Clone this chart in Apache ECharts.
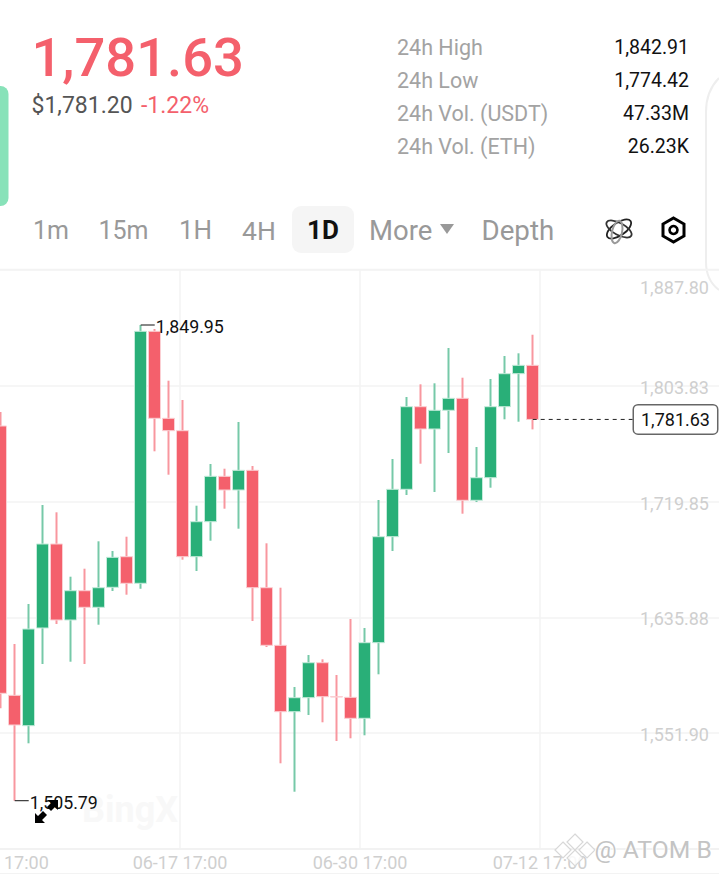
<!DOCTYPE html>
<html><head><meta charset="utf-8">
<style>html,body{margin:0;padding:0;background:#fff}#c{width:719px;height:874px}</style>
<script src="https://cdn.jsdelivr.net/npm/echarts@6/dist/echarts.min.js"></script>
</head><body><div id="c"></div>
<script>
const opens  = [1776.88,1582.04,1560.05,1630.73,1691.51,1636.52,1657.72,1645.71,1660.18,1682.32,1663.07,1845.39,1782.45,1773.48,1682.32,1707.64,1740.49,1730.57,1744.83,1659.89,1618.22,1570.18,1580.31,1605.63,1581.03,1580.60,1565.40,1620.10,1696.79,1731.08,1790.84,1774.71,1788.24,1796.92,1723.12,1739.47,1790.84,1814.72,1820.79];
const closes = [1583.49,1560.56,1630.01,1691.51,1636.52,1657.72,1645.71,1659.89,1681.88,1663.07,1845.39,1782.45,1773.48,1682.32,1707.64,1740.49,1730.57,1744.83,1659.89,1618.22,1570.18,1580.31,1605.63,1581.03,1580.80,1565.40,1620.10,1696.79,1731.08,1790.84,1774.71,1788.24,1796.92,1723.12,1739.47,1790.84,1814.72,1820.79,1781.63];
const lows   = [1572.64,1505.79,1547.32,1604.69,1633.63,1606.35,1604.69,1633.12,1657.50,1654.83,1659.17,1758.57,1741.64,1680.15,1671.97,1693.89,1717.05,1702.58,1635.80,1616.99,1532.85,1512.30,1567.79,1562.51,1548.98,1550.94,1553.11,1597.24,1686.44,1726.96,1749.60,1729.13,1757.34,1713.43,1721.89,1732.24,1781.72,1779.99,1774.42];
const highs  = [1787.01,1619.16,1648.10,1719.72,1714.44,1667.85,1673.64,1693.46,1686.44,1696.79,1849.95,1847.06,1809.65,1795.69,1719.22,1749.39,1745.99,1779.77,1747.94,1692.01,1659.89,1588.05,1611.20,1608.09,1596.73,1637.25,1630.73,1723.34,1753.00,1797.86,1807.05,1807.77,1833.31,1811.82,1761.68,1810.88,1827.52,1829.47,1842.91];
const yTicks = [1551.90,1635.88,1719.85,1803.83,1887.80];
const xTicks = [0,180,360,540];
const xTickLabels = ['17:00','06-17 17:00','06-30 17:00','07-12 17:00'];
const lastPrice = 1781.63, peak = 1849.95, trough = 1505.79;
const priceLineSpan = [532.7,634];
const statLabels = ['24h High','24h Low','24h Vol. (USDT)','24h Vol. (ETH)'];
const statValues = ['1,842.91','1,774.42','47.33M','26.23K'];
const tabLabels = ['1m','15m','1H','4H','1D','More','Depth'];

const tabX = [33,98.5,179,242,307,369,481.5], tabSize = [25,25,26,26.5,26,27.5,27.7], tabActive = 4;
const RED='#F4606C', GREEN='#29AF78', REDW='#F8979F', GREENW='#76C9A8', F='Roboto', AXIS='#CFCFCF';
const fmt=v=>v.toLocaleString('en-US',{minimumFractionDigits:2,maximumFractionDigits:2});
const wickData=opens.map((o,i)=>[o,closes[i],lows[i],highs[i]]);
const bodyData=opens.map((o,i)=>[o,closes[i],Math.min(o,closes[i]),Math.max(o,closes[i])]);
const txt=(text,x,y,size,fill,o={})=>({type:'text',x,y,z:o.z||5,style:Object.assign({text,font:`${o.weight||400} ${size}px ${F}`,fill,textVerticalAlign:'middle',textAlign:o.align||'left'},o.style||{})});
const extremum=(coord,val)=>({coord,symbol:'rect',symbolSize:[14,1],symbolOffset:[7,0],itemStyle:{color:'#111'},
  label:{show:true,position:'right',distance:1,offset:[0,2],formatter:fmt(val),color:'#111',fontFamily:F,fontSize:17.8}});
const diamond=(cx,cy,r)=>({type:'polygon',z:20,shape:{points:[[cx,cy-r],[cx+r,cy],[cx,cy+r],[cx-r,cy]]},style:{fill:'rgba(255,255,255,0.85)',stroke:'#D8D8D8',lineWidth:1.2}});
const panelStroke={fill:'none',stroke:'#EEEEEE',lineWidth:2};

const graphics=[
  {type:'rect',shape:{x:-10,y:86,width:18.5,height:120,r:8},style:{fill:'#88E2B9'}},
  {type:'bezierCurve',shape:{x1:719,y1:78,x2:706,y2:112,cpx1:711,cpy1:86,cpx2:706,cpy2:98},style:panelStroke},
  {type:'line',shape:{x1:706,y1:112,x2:706,y2:262},style:panelStroke},
  {type:'bezierCurve',shape:{x1:706,y1:262,x2:719,y2:290,cpx1:706,cpy1:276,cpx2:711,cpy2:284},style:panelStroke},
  {type:'rect',shape:{x:292,y:206,width:62,height:47,r:9},style:{fill:'#F5F5F5'}},
  txt('1,781.63',31.5,57,54.3,RED,{weight:500}),
  txt('$1,781.20',31.5,105,23,'#555555'),
  txt('-1.22%',141,105,23,RED),
  {type:'polygon',shape:{points:[[440,224],[454,224],[447,234]]},style:{fill:'#999999'}},
  {type:'ellipse',x:619,y:229,rotation:0.6,shape:{cx:0,cy:0,rx:14,ry:6.5},style:{fill:'none',stroke:'#222',lineWidth:1.8}},
  {type:'ellipse',x:619,y:229,rotation:-0.5,shape:{cx:0,cy:0,rx:14,ry:6},style:{fill:'none',stroke:'#333',lineWidth:1.8}},
  {type:'ellipse',x:617,y:232,rotation:1.35,shape:{cx:0,cy:0,rx:11.5,ry:5},style:{fill:'none',stroke:'#999',lineWidth:2}},
  {type:'polygon',shape:{points:[[673.5,218],[684,224],[684,236],[673.5,242],[663,236],[663,224]]},style:{fill:'none',stroke:'#000',lineWidth:3}},
  {type:'circle',shape:{cx:673.5,cy:230,r:4},style:{fill:'none',stroke:'#000',lineWidth:2.6}},
  {type:'line',shape:{x1:0,y1:269.5,x2:719,y2:269.5},style:{stroke:'#F3F3F3',lineWidth:1.5}},
  {type:'line',shape:{x1:0,y1:873.5,x2:719,y2:873.5},style:{stroke:'#F3F3F3',lineWidth:1}},
  txt('BingX',82,810,36,'#F8F8F8',{weight:700,z:1}),
  {type:'polygon',z:20,shape:{points:[[35,823],[35,813],[38,816],[43,811],[47,815],[42,820],[45,823]]},style:{fill:'#000'}},
  {type:'polygon',z:20,shape:{points:[[58,800],[58,810],[55,807],[51,811],[47,807],[51,803],[48,800]]},style:{fill:'#000'}},
  diamond(575,842,8),diamond(575,858,8),diamond(563,850,8),diamond(587,850,8),
  txt('@ ATOM B',594.5,849,24.7,'#C4C4C4',{z:20,style:{stroke:'rgba(255,255,255,0.8)',lineWidth:2}})
];
statLabels.forEach((t,i)=>{graphics.push(txt(t,397,47+i*33,21.5,'#A3A3A3'));graphics.push(txt(statValues[i],689,47+i*33,19.5,'#111111',{align:'right'}));});
tabLabels.forEach((t,i)=>graphics.push(txt(t,tabX[i],230,tabSize[i],i===tabActive?'#111111':'#999999',{weight:i===tabActive?700:400})));

const chart=echarts.init(document.getElementById('c'),null,{renderer:'svg',width:719,height:874});
chart.setOption({
  animation:false,backgroundColor:'#fff',
  grid:[{left:0,width:719,top:270,height:579,show:false},{left:0.7,width:532,top:270,height:579,show:false}],
  xAxis:[
    {type:'value',gridIndex:0,min:0,max:719,
     axisLine:{show:true,onZero:false,lineStyle:{color:'#F2F2F2',width:2}},
     axisTick:{show:false,customValues:xTicks},
     splitLine:{show:true,showMinLine:false,lineStyle:{color:'#F3F3F3',width:1.5}},
     axisLabel:{customValues:xTicks,alignMinLabel:'left',margin:4,color:AXIS,fontFamily:F,fontSize:18,
       formatter:v=>{const i=xTicks.indexOf(v);return i===0?'{a|'+xTickLabels[0]+'}':xTickLabels[i];},
       rich:{a:{padding:[0,0,0,4],color:AXIS,fontFamily:F,fontSize:18}}}},
    {type:'category',gridIndex:1,show:false,data:opens.map((_,i)=>i),boundaryGap:false}
  ],
  yAxis:[
    {type:'value',gridIndex:0,position:'right',min:1467.93,max:1887.80,
     axisLine:{show:false},axisTick:{show:false,customValues:yTicks},
     splitLine:{show:true,lineStyle:{color:'#F3F3F3',width:1.5}},
     axisLabel:{inside:true,customValues:yTicks,margin:10,color:AXIS,fontFamily:F,fontSize:18,
       formatter:v=>v===1887.80?'{t|'+fmt(v)+'}':'{n|'+fmt(v)+'}',
       rich:{t:{padding:[34,0,0,0],color:AXIS,fontFamily:F,fontSize:18},
             n:{padding:[3,0,0,0],color:AXIS,fontFamily:F,fontSize:18}}}},
    {type:'value',gridIndex:0,position:'left',show:false,min:1470.85,max:1889.74,splitLine:{show:false}},
    {type:'value',gridIndex:1,show:false,min:1470.85,max:1889.74,splitLine:{show:false}}
  ],
  series:[
    {type:'line',xAxisIndex:0,yAxisIndex:1,data:priceLineSpan.map(x=>[x,lastPrice]),symbol:'none',z:4,
     lineStyle:{color:'#222',width:1,type:[4,4]},
     markPoint:{symbol:'circle',symbolSize:0,silent:true,data:[{coord:[priceLineSpan[1],lastPrice],
       label:{show:true,position:'right',distance:0,formatter:fmt(lastPrice),color:'#111',fontFamily:F,fontSize:18,
         backgroundColor:'#fff',borderColor:'#666',borderWidth:1.5,borderRadius:4,padding:[5,7]}}]}},
    {type:'candlestick',name:'wick',xAxisIndex:1,yAxisIndex:2,data:wickData,barWidth:1,z:2,clip:false,
     itemStyle:{color:GREENW,color0:REDW,borderColor:GREENW,borderColor0:REDW,borderColorDoji:REDW,borderWidth:2}},
    {type:'candlestick',name:'body',xAxisIndex:1,yAxisIndex:2,data:bodyData,barWidth:12,z:3,clip:false,
     itemStyle:{color:GREEN,color0:RED,borderColor:'#C5EBDB',borderColor0:'#FBCFD3',borderColorDoji:'#FBCFD3',borderWidth:1},
     markPoint:{silent:true,data:[extremum([10,peak],peak),extremum([1,trough],trough)]}}
  ],
  graphic:{elements:graphics}
});
</script></body></html>
